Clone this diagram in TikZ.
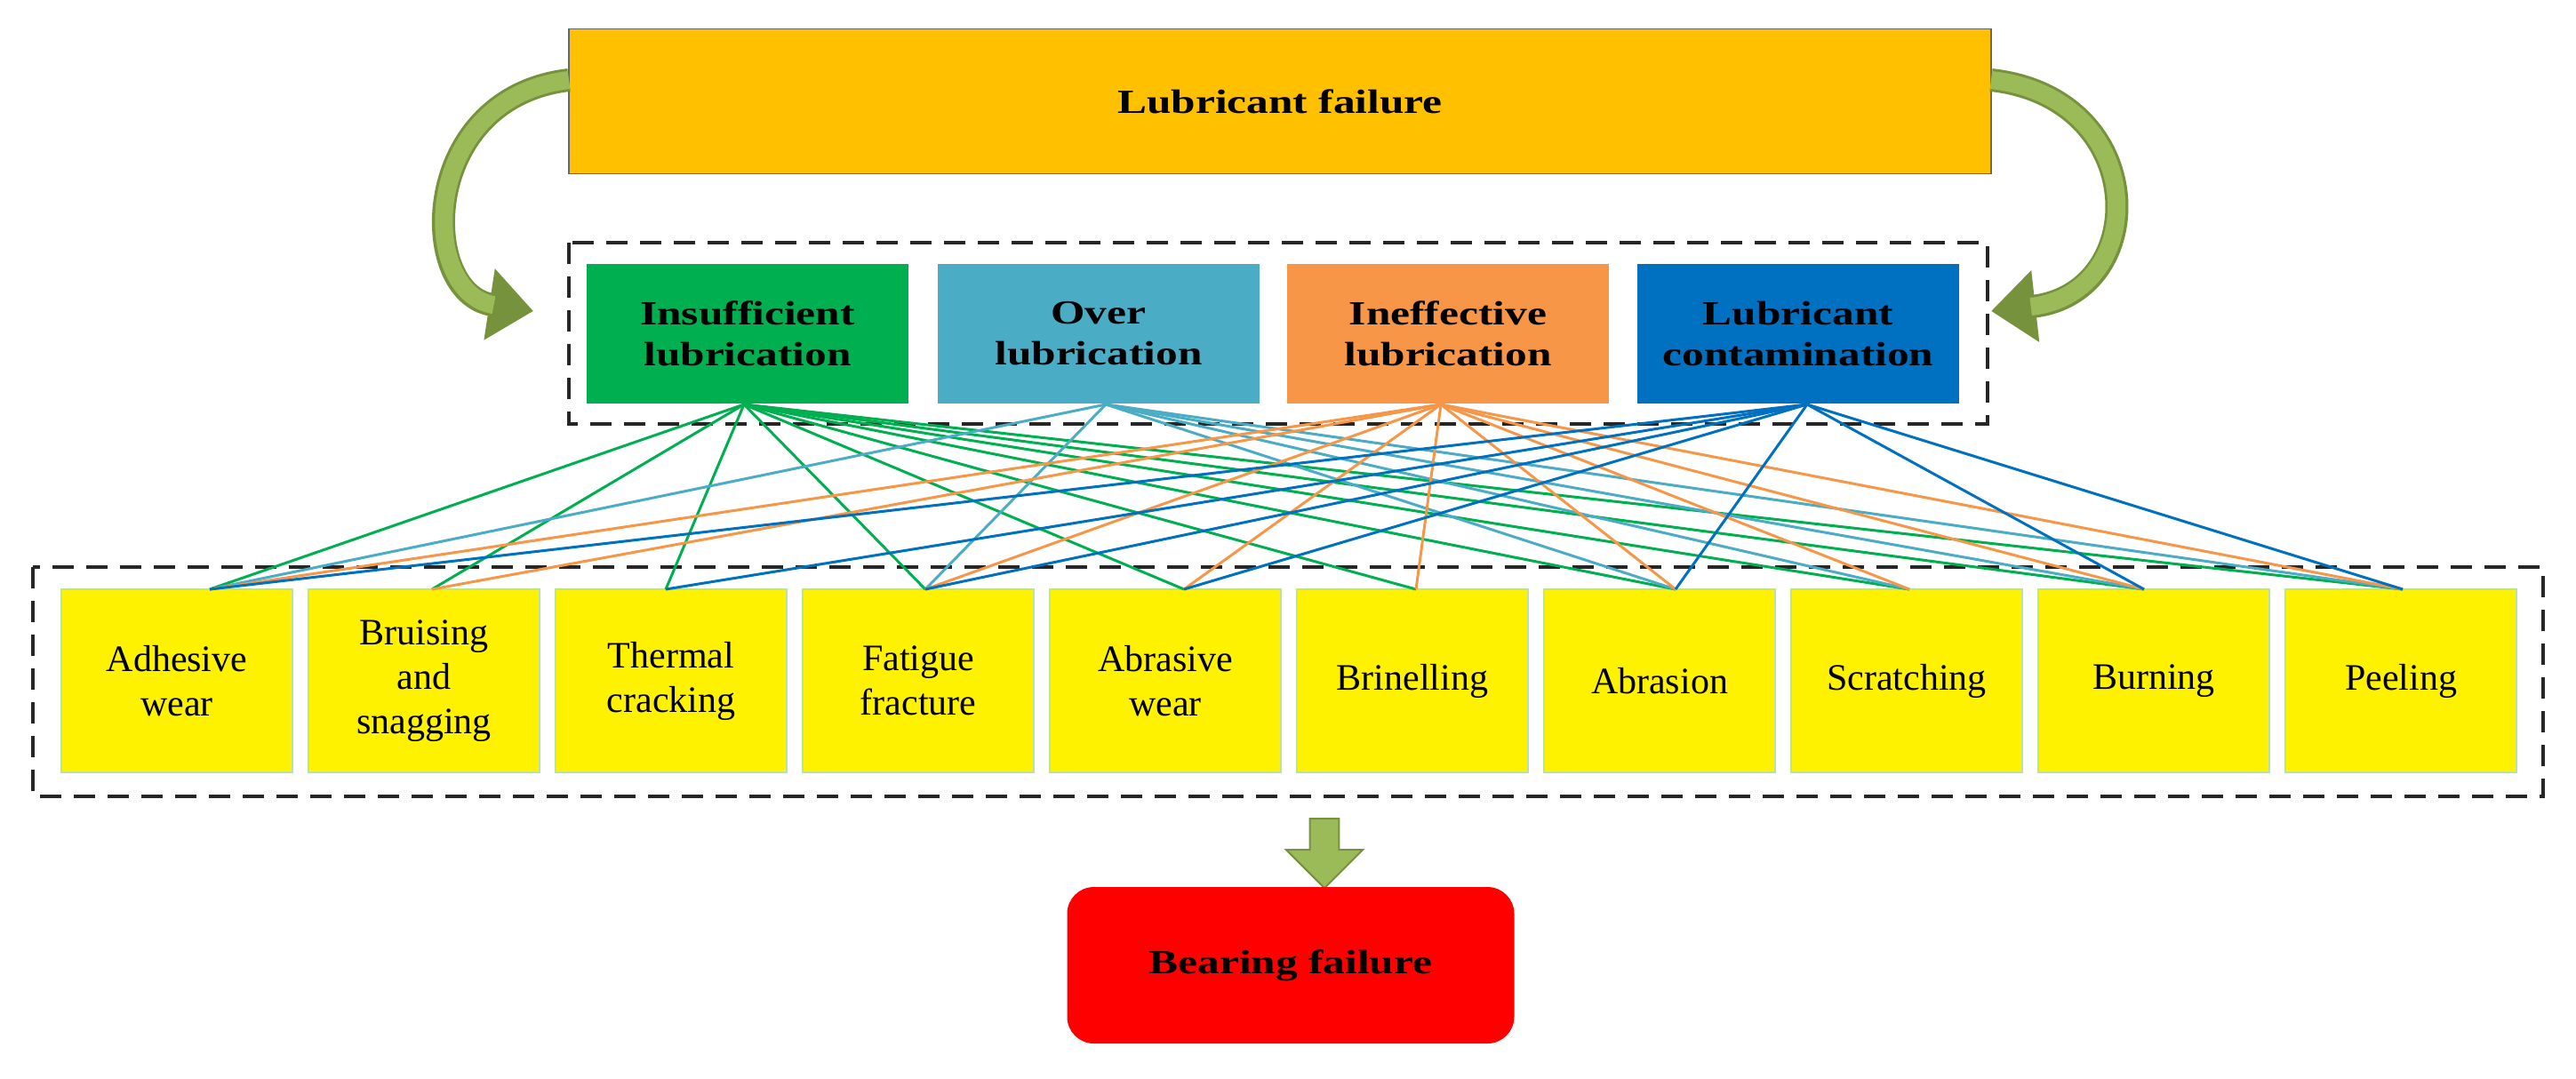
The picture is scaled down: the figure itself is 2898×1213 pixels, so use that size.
\documentclass[tikz,border=0pt]{standalone}
\usepackage{fontspec}
\setmainfont{Liberation Serif}
\newfontfamily\wideb{Liberation Serif}[FakeStretch=1.3]
\usetikzlibrary{arrows.meta,shapes.arrows}
\definecolor{cG}{HTML}{00B050}
\definecolor{cC}{HTML}{4BACC6}
\definecolor{cO}{HTML}{F79646}
\definecolor{cB}{HTML}{0070C0}
\definecolor{cTop}{HTML}{FFC000}
\definecolor{cArr}{HTML}{9BBB59}
\definecolor{cArrD}{HTML}{76923C}
\definecolor{cYb}{HTML}{92D050}
\begin{document}
\begin{tikzpicture}[x=1pt,y=-1pt,
  cause/.style={minimum width=362pt,minimum height=157pt,inner sep=0pt,text=black,align=center,font=\wideb\bfseries\fontsize{38}{46}\selectfont},
  mode/.style={draw=cYb!60,line width=2pt,fill=yellow,minimum width=260pt,minimum height=206pt,inner sep=0pt,align=center,font=\fontsize{42}{50}\selectfont},
  dashbox/.style={draw=black!85,line width=4pt,dash pattern=on 24pt off 14pt},
  lk/.style={line width=3pt},
  curvearrow/.style={draw=cArrD,line width=26pt,-{Triangle[length=50pt,width=78pt]}}]
\useasboundingbox (0,0) rectangle (2898,1213);
\node[draw=black!60,line width=1.5pt,fill=cTop,minimum width=1600pt,minimum height=163pt,inner sep=0pt,font=\wideb\bfseries\fontsize{38}{46}\selectfont] (top) at (1440,114) {Lubricant failure};
\draw[dashbox] (640,273) rectangle (2236,477);
\node[cause,fill=cG] (c1) at (841,375) {Insufficient\\lubrication};
\node[cause,fill=cC] (c2) at (1236,375) {Over\\lubrication};
\node[cause,fill=cO] (c3) at (1629,375) {Ineffective\\lubrication};
\node[cause,fill=cB] (c4) at (2023,375) {Lubricant\\contamination};
\draw[dashbox] (37,638) rectangle (2861,896);
\foreach \i/\t in {0/Adhesive\\wear,1/Bruising\\and\\snagging,2/Thermal\\cracking,3/Fatigue\\fracture,4/Abrasive\\wear,5/Brinelling,6/Abrasion,7/Scratching,8/Burning,9/Peeling}{
  \node[mode] (m\i) at ({199+278*\i},766) {\t};
}
\foreach \i/\x in {0/236,1/486,2/749,3/1041,4/1332,5/1593,6/1885,7/2148,8/2412,9/2703}{
  \coordinate (t\i) at (\x,663);
}
\coordinate (s1) at (837,455);
\coordinate (s2) at (1244,455);
\coordinate (s3) at (1621,455);
\coordinate (s4) at (2033,455);
\foreach \i in {0,...,9}{\draw[lk,cG] (s1) -- (t\i);}
\foreach \i in {0,3,6,7,8,9}{\draw[lk,cC] (s2) -- (t\i);}
\foreach \i in {0,1,3,4,5,6,7,8,9}{\draw[lk,cO] (s3) -- (t\i);}
\foreach \i in {0,2,3,4,6,8,9}{\draw[lk,cB] (s4) -- (t\i);}
\coordinate (la) at (640,90); \coordinate (lb) at (600,350);
\coordinate (ra) at (2240,90); \coordinate (rb) at (2240,350);
\draw[curvearrow] (la) .. controls (470,110) and (470,330) .. (lb);
\draw[cArr,line width=20pt,shorten >=45pt] (la) .. controls (470,110) and (470,330) .. (lb);
\draw[curvearrow] (ra) .. controls (2420,110) and (2420,330) .. (rb);
\draw[cArr,line width=20pt,shorten >=45pt] (ra) .. controls (2420,110) and (2420,330) .. (rb);
\node[single arrow,draw=cArrD,fill=cArr,line width=2pt,shape border rotate=270,minimum width=86pt,single arrow head extend=18pt,minimum height=78pt,inner sep=10pt] (da) at (1490,952) {};
\node[fill=red,rounded corners=30pt,minimum width=503pt,minimum height=176pt,font=\wideb\bfseries\fontsize{38}{46}\selectfont] (bf) at (1452,1086) {Bearing failure};
\end{tikzpicture}
\end{document}
